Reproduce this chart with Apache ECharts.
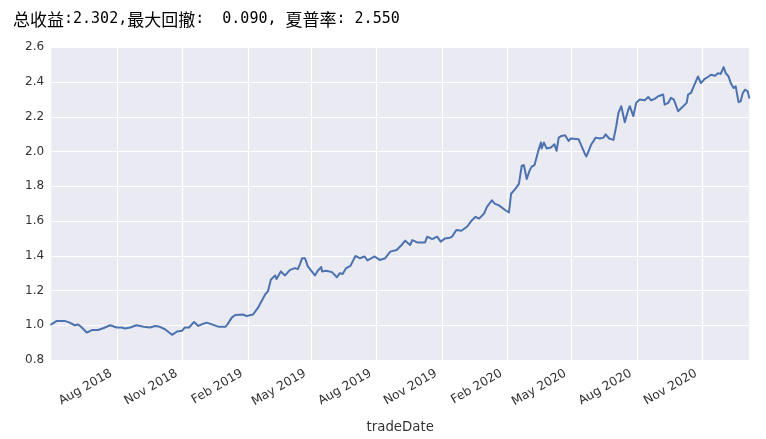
<!DOCTYPE html>
<html>
<head>
<meta charset="utf-8">
<script src="https://cdn.jsdelivr.net/npm/echarts@6/dist/echarts.min.js"></script>
<style>
  html, body { margin: 0; padding: 0; background: #ffffff; }
  #chart { width: 766px; height: 439px; }
</style>
</head>
<body>
<div id="chart"></div>
<script>
// ---- data ----
const START_DATE = '2018-04-30';
const END_DATE = '2021-01-06';

const tickDates = ['2018-08-01','2018-11-01','2019-02-01','2019-05-01','2019-08-01',
                   '2019-11-01','2020-02-01','2020-05-01','2020-08-01','2020-11-01'];
const tickLabels = ['Aug 2018','Nov 2018','Feb 2019','May 2019','Aug 2019',
                    'Nov 2019','Feb 2020','May 2020','Aug 2020','Nov 2020'];

const yMin = 0.8, yMax = 2.6, yStep = 0.2;

const tradeDates = [
'2018-04-30','2018-05-08','2018-05-19','2018-05-26','2018-06-02','2018-06-07','2018-06-11','2018-06-19',
'2018-06-27','2018-07-05','2018-07-12','2018-07-22','2018-07-31','2018-08-07','2018-08-12','2018-08-19',
'2018-08-28','2018-09-07','2018-09-16','2018-09-23','2018-09-30','2018-10-07','2018-10-17','2018-10-24',
'2018-10-31','2018-11-04','2018-11-10','2018-11-17','2018-11-23','2018-11-30','2018-12-05','2018-12-12',
'2018-12-21','2018-12-31','2019-01-03','2019-01-09','2019-01-14','2019-01-25','2019-01-30','2019-02-08',
'2019-02-15','2019-02-25','2019-03-01','2019-03-05','2019-03-07','2019-03-11','2019-03-13','2019-03-19',
'2019-03-25','2019-04-01','2019-04-08','2019-04-12','2019-04-15','2019-04-18','2019-04-22','2019-04-26',
'2019-05-06','2019-05-10','2019-05-15','2019-05-16','2019-05-22','2019-05-30','2019-06-06','2019-06-10',
'2019-06-14','2019-06-19','2019-06-25','2019-07-02','2019-07-08','2019-07-15','2019-07-19','2019-07-29',
'2019-08-05','2019-08-13','2019-08-20','2019-08-29','2019-09-05','2019-09-10','2019-09-17','2019-09-20',
'2019-09-27','2019-10-08','2019-10-11','2019-10-18','2019-10-25','2019-10-30','2019-11-05','2019-11-12',
'2019-11-15','2019-11-21','2019-11-28','2019-12-06','2019-12-13','2019-12-18','2019-12-23','2019-12-30',
'2020-01-03','2020-01-10','2020-01-14','2020-01-20','2020-01-29','2020-02-03','2020-02-06','2020-02-12',
'2020-02-17','2020-02-21','2020-02-24','2020-02-28','2020-03-03','2020-03-06','2020-03-10','2020-03-16',
'2020-03-19','2020-03-20','2020-03-23','2020-03-27','2020-04-02','2020-04-07','2020-04-10','2020-04-13',
'2020-04-17','2020-04-22','2020-04-27','2020-04-30','2020-05-11','2020-05-15','2020-05-20','2020-05-22',
'2020-05-29','2020-06-04','2020-06-10','2020-06-15','2020-06-18','2020-06-23','2020-06-29','2020-07-03',
'2020-07-06','2020-07-10','2020-07-15','2020-07-20','2020-07-22','2020-07-27','2020-07-31','2020-08-05',
'2020-08-12','2020-08-17','2020-08-21','2020-08-26','2020-08-31','2020-09-07','2020-09-09','2020-09-14',
'2020-09-18','2020-09-22','2020-09-28','2020-10-03','2020-10-10','2020-10-12','2020-10-16','2020-10-21',
'2020-10-26','2020-10-30','2020-11-04','2020-11-10','2020-11-13','2020-11-19','2020-11-23','2020-11-27',
'2020-12-01','2020-12-04','2020-12-08','2020-12-11','2020-12-15','2020-12-18','2020-12-22','2020-12-25',
'2020-12-28','2020-12-31','2021-01-04','2021-01-06'
];

const navValues = [
1.005,1.025,1.025,1.015,1.000,1.004,0.991,0.958,
0.973,0.973,0.983,1.000,0.987,0.987,0.981,0.987,
1.000,0.992,0.987,0.996,0.991,0.977,0.945,0.964,
0.968,0.987,0.987,1.019,0.996,1.009,1.015,1.005,
0.992,0.991,1.005,1.044,1.059,1.062,1.053,1.062,
1.101,1.177,1.196,1.262,1.272,1.287,1.266,1.310,
1.287,1.319,1.329,1.323,1.352,1.386,1.386,1.339,
1.287,1.314,1.335,1.310,1.314,1.306,1.276,1.300,
1.295,1.329,1.342,1.399,1.386,1.396,1.373,1.396,
1.376,1.386,1.424,1.433,1.462,1.487,1.462,1.490,
1.477,1.477,1.510,1.496,1.510,1.481,1.500,1.504,
1.510,1.548,1.544,1.567,1.605,1.624,1.614,1.643,
1.681,1.719,1.700,1.690,1.662,1.649,1.757,1.785,
1.814,1.918,1.922,1.842,1.890,1.913,1.922,2.014,
2.052,2.018,2.052,2.018,2.023,2.042,2.004,2.080,
2.090,2.094,2.061,2.075,2.071,2.033,1.985,1.972,
2.042,2.080,2.075,2.080,2.099,2.075,2.067,2.147,
2.223,2.261,2.169,2.242,2.261,2.204,2.280,2.299,
2.295,2.314,2.295,2.303,2.318,2.328,2.270,2.280,
2.309,2.299,2.232,2.252,2.280,2.328,2.337,2.385,
2.432,2.394,2.417,2.432,2.442,2.436,2.451,2.447,
2.486,2.451,2.432,2.394,2.366,2.375,2.284,2.289,
2.337,2.356,2.346,2.309
];

const titleParts = [
  ['c', '总收益'], ['n', ':2.302,'], ['c', '最大回撤'], ['n', ':  0.090, '],
  ['c', '夏普率'], ['n', ': 2.550']
];

// ---- build calendar-day categories for the axis ----
function dayList(a, b) {
  const out = [];
  const d = new Date(a + 'T00:00:00Z');
  const e = new Date(b + 'T00:00:00Z');
  while (d <= e) {
    out.push(d.toISOString().slice(0, 10));
    d.setUTCDate(d.getUTCDate() + 1);
  }
  return out;
}
const allDays = dayList(START_DATE, END_DATE);
const tickMap = {};
tickDates.forEach((d, i) => { tickMap[d] = tickLabels[i]; });
const isTick = (idx, val) => tickMap.hasOwnProperty(val);

const seriesData = tradeDates.map((d, i) => [d, navValues[i]]);

const chart = echarts.init(document.getElementById('chart'), null, { renderer: 'canvas' });
chart.setOption({
  backgroundColor: '#ffffff',
  animation: false,
  title: {
    left: 13,
    top: 8,
    padding: 0,
    text: titleParts.map(p => '{' + p[0] + '|' + p[1] + '}').join(''),
    textStyle: {
      fontWeight: 'normal',
      rich: {
        c: { fontFamily: '"Noto Sans CJK SC"', fontSize: 17, fontWeight: 'normal', color: '#000', lineHeight: 23 },
        n: { fontFamily: '"DejaVu Sans Mono"', fontSize: 15, fontWeight: 'normal', color: '#000', lineHeight: 23 }
      }
    }
  },
  grid: {
    left: 51.2, right: 16.8, top: 47.3, bottom: 76.3,
    show: true, backgroundColor: '#EAEAF2', borderWidth: 0,
    containLabel: false
  },
  xAxis: {
    type: 'category',
    data: allDays,
    boundaryGap: false,
    name: 'tradeDate',
    nameLocation: 'middle',
    nameGap: 61,
    nameTextStyle: { fontFamily: 'DejaVu Sans', fontSize: 13.3, color: '#333' },
    axisLine: { show: false },
    axisTick: { show: false },
    axisLabel: {
      interval: isTick,
      formatter: v => tickMap[v] || '',
      rotate: 30,
      margin: 9,
      padding: [0, 7, 0, 0],
      fontFamily: 'DejaVu Sans',
      fontSize: 12.3,
      color: '#333'
    },
    splitLine: {
      show: true,
      interval: isTick,
      lineStyle: { color: '#ffffff', width: 1.2 }
    }
  },
  yAxis: {
    type: 'value',
    min: yMin, max: yMax, interval: yStep,
    axisLine: { show: false },
    axisTick: { show: false },
    axisLabel: {
      formatter: v => v.toFixed(1),
      margin: 7,
      fontFamily: 'DejaVu Sans',
      fontSize: 12,
      color: '#333'
    },
    splitLine: { show: true, lineStyle: { color: '#ffffff', width: 1.2 } }
  },
  series: [{
    type: 'line',
    data: seriesData,
    showSymbol: false,
    symbol: 'none',
    clip: true,
    lineStyle: { color: '#4C72B0', width: 2, cap: 'round', join: 'round' },
    itemStyle: { color: '#4C72B0' }
  }]
});
</script>
</body>
</html>
